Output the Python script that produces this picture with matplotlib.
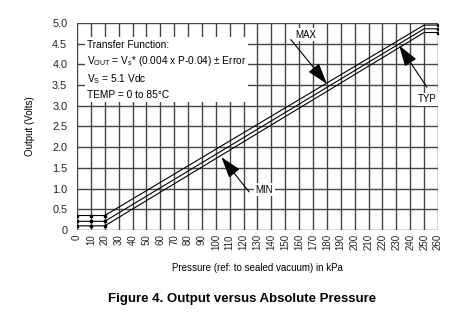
import numpy as np
import matplotlib.pyplot as plt

plt.rcParams['font.family'] = ['Liberation Sans', 'DejaVu Sans']
plt.rcParams['mathtext.fontset'] = 'custom'
plt.rcParams['mathtext.rm'] = 'Liberation Sans'

# output curves, kPa vs volts (flat below 20 kPa and above 250 kPa)
pressure = [0, 10, 20, 250, 260]
v_max = [0.35, 0.35, 0.35, 4.95, 4.95]
v_typ = [0.21, 0.21, 0.21, 4.86, 4.86]
v_min = [0.10, 0.10, 0.10, 4.77, 4.77]

x_ticks = list(range(0, 261, 10))
y_ticks = [0, 0.5, 1.0, 1.5, 2.0, 2.5, 3.0, 3.5, 4.0, 4.5, 5.0]
y_labels = ['0', '0.5', '1.0', '1.5', '2.0', '2.5', '3.0', '3.5', '4.0', '4.5', '5.0']

fig = plt.figure(figsize=(4.74, 3.22), dpi=100)
ax = fig.add_axes([0.1624, 0.2857, 0.7616, 0.6429])

for v in (v_max, v_typ, v_min):
    ax.plot(pressure, v, color='black', lw=0.8, marker='s', ms=1.6,
            markevery=[0, 1, 2, 4], zorder=3)

ax.set_xlim(0, 260)
ax.set_ylim(0, 5.0)
ax.set_xticks(x_ticks)
ax.set_xticklabels([str(t) for t in x_ticks], rotation=90, fontsize=7)
ax.set_yticks(y_ticks)
ax.set_yticklabels(y_labels, fontsize=7.8)
ax.tick_params(axis='x', length=0, pad=3, colors='#222222')
ax.tick_params(axis='y', length=0, pad=7, colors='#222222')
ax.grid(True, color='#444444', lw=1.0)
for s in ax.spines.values():
    s.set_visible(False)

ax.set_xlabel('Pressure (ref: to sealed vacuum) in kPa', fontsize=7, labelpad=9)
ax.set_ylabel('Output (Volts)', fontsize=7, labelpad=12)

box_text = ('Transfer Function:\n'
            r'V$_{\mathrm{OUT}}$ = V$_{\mathrm{s}}$* (0.004 x P-0.04) $\pm$ Error' '\n'
            r'V$_{\mathrm{S}}$ = 5.1 Vdc' '\n'
            'TEMP = 0 to 85°C')
ax.text(7, 4.6, box_text, fontsize=7.3, va='top', ha='left', linespacing=1.45,
        bbox=dict(facecolor='white', edgecolor='none', pad=1.5), zorder=4)

arrow = dict(arrowstyle='-|>,head_length=1.1,head_width=0.35', color='black',
             lw=0.8, mutation_scale=12, shrinkA=0, shrinkB=0)
lbl_box = dict(facecolor='white', edgecolor='none', pad=1)
ax.annotate('', xy=(180, 3.53), xytext=(154, 4.6), arrowprops=arrow, zorder=5)
ax.text(165, 4.72, 'MAX', fontsize=7, ha='center', va='center', bbox=lbl_box, zorder=5)
ax.annotate('', xy=(232, 4.46), xytext=(252, 3.45), arrowprops=arrow, zorder=5)
ax.text(252, 3.16, 'TYP', fontsize=7, ha='center', va='center', bbox=lbl_box, zorder=5)
ax.annotate('', xy=(104, 1.76), xytext=(124, 0.92), arrowprops=arrow, zorder=5)
ax.text(135, 0.97, 'MIN', fontsize=7, ha='center', va='center', bbox=lbl_box, zorder=5)

fig.text(0.51, 0.072, 'Figure 4. Output versus Absolute Pressure', fontsize=9.5,
         fontweight='bold', ha='center', va='center')

fig.savefig('out.png', dpi=100)
